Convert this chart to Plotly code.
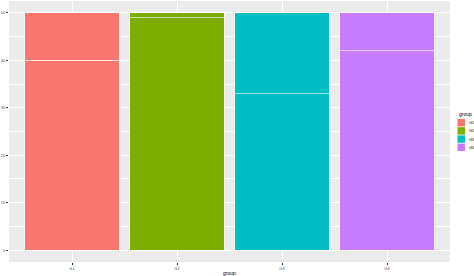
import plotly.graph_objects as go

groups = ["G1", "G2", "G3", "G4"]
lower = [40, 49, 33, 42]
upper = [10, 1, 17, 8]
colors = ["#F8766D", "#7CAE00", "#00BFC4", "#C77CFF"]

W, H = 474, 276
ML, MR, MT, MB = 9, 24, 1, 14
PW, PH = W - ML - MR, H - MT - MB

fig = go.Figure()
for g, lo, up, c in zip(groups, lower, upper, colors):
    fig.add_trace(go.Bar(x=[g], y=[lo], name=g, marker=dict(color=c, line=dict(color="white", width=0.6)), showlegend=False))
    fig.add_trace(go.Bar(x=[g], y=[up], name=g, marker=dict(color=c, line=dict(color="white", width=0.6)), showlegend=False))

# manual ggplot-style legend
def px2x(px):
    return (px - ML) / PW
def py2y(py):
    return (H - MB - py) / PH

shapes = []
annotations = [dict(x=px2x(456.5), y=py2y(114), xref="paper", yref="paper", text="group", showarrow=False,
                    xanchor="left", yanchor="middle", font=dict(size=5, color="#000000"))]
for i, (g, c) in enumerate(zip(groups, colors)):
    top = 119 + 8.2 * i
    shapes.append(dict(type="rect", xref="paper", yref="paper", x0=px2x(457.5), x1=px2x(465), y0=py2y(top), y1=py2y(top + 7.4),
                       fillcolor=c, line=dict(width=0)))
    annotations.append(dict(x=px2x(467), y=py2y(top + 3.7), xref="paper", yref="paper", text=g, showarrow=False,
                            xanchor="left", yanchor="middle", font=dict(size=4, color="#000000")))

fig.update_layout(
    width=W, height=H,
    margin=dict(l=ML, r=MR, t=MT, b=MB, autoexpand=False),
    barmode="stack", bargap=0.1,
    paper_bgcolor="white", plot_bgcolor="#EBEBEB",
    font=dict(family="Liberation Sans, Arial, sans-serif", size=4, color="#4D4D4D"),
    showlegend=False,
    shapes=shapes, annotations=annotations,
    xaxis=dict(range=[-0.6, 3.6], showgrid=True, gridcolor="white", gridwidth=1, ticks="outside", ticklen=2, tickcolor="#333333",
               tickfont=dict(size=4, color="#4D4D4D"), title=dict(text="group", font=dict(size=5, color="#000000"), standoff=2), zeroline=False),
    yaxis=dict(range=[-2.5, 52.5], dtick=10, showgrid=True, gridcolor="white", gridwidth=1, ticks="outside", ticklen=2, tickcolor="#333333",
               tickfont=dict(size=4, color="#4D4D4D"), zeroline=False,
               minor=dict(dtick=5, showgrid=True, gridcolor="white", gridwidth=0.5)),
)
fig.write_html("out.html")
